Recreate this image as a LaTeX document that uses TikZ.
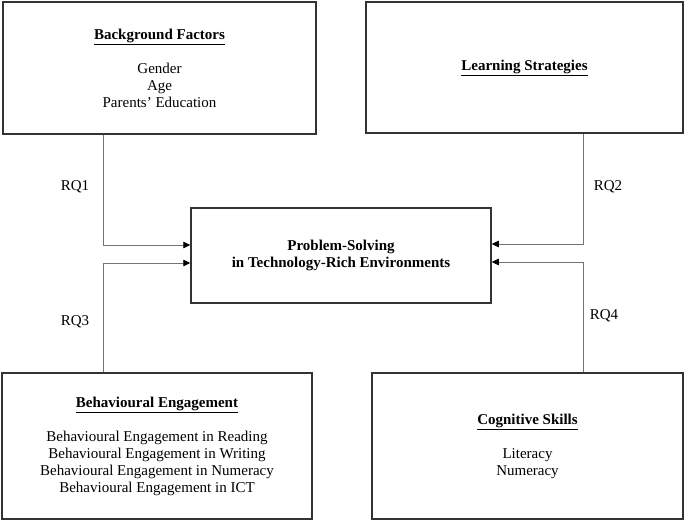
\documentclass[tikz,border=0pt]{standalone}
\usepackage{fontspec}
\setmainfont{Liberation Serif}
\usetikzlibrary{arrows.meta}

\begin{document}
\begin{tikzpicture}[x=1pt, y=-1pt, >={Triangle[length=7pt,width=6.5pt,color=black]},
	every node/.style={font=\fontsize{15}{17}\selectfont},
	box/.style={draw=black!80, line width=1.5pt, align=center, inner sep=0pt},
	link/.style={draw=black!55, line width=0.8pt}]
	\useasboundingbox (0,0) rectangle (685,521);
	
	% 1. 方框
	\node[box, minimum width=313pt, minimum height=132pt] (bf) at (159.5,68)
		{\underline{\textbf{Background Factors}}\\[17pt] Gender\\ Age\\ Parents' Education};
	\node[box, minimum width=317pt, minimum height=131pt] (ls) at (524.5,67.5)
		{\underline{\textbf{Learning Strategies}}};
	\node[box, minimum width=300pt, minimum height=95pt] (ps) at (341,255.5)
		{\textbf{Problem-Solving}\\ \textbf{in Technology-Rich Environments}};
	\node[box, minimum width=310pt, minimum height=146pt] (be) at (157,446)
		{\underline{\textbf{Behavioural Engagement}}\\[17pt]
		 Behavioural Engagement in Reading\\ Behavioural Engagement in Writing\\
		 Behavioural Engagement in Numeracy\\ Behavioural Engagement in ICT};
	\node[box, minimum width=311pt, minimum height=146pt] (cs) at (527.5,446)
		{\underline{\textbf{Cognitive Skills}}\\[17pt] Literacy\\ Numeracy};
	
	% 2. 连线（折线 + 箭头）
	\coordinate (k1) at (103,245);
	\coordinate (k2) at (583,244);
	\coordinate (k3) at (103,263);
	\coordinate (k4) at (583,262);
	\draw[link, ->] (bf.south -| k1) |- (k1 -| ps.west);
	\draw[link, ->] (ls.south -| k2) |- (k2 -| ps.east);
	\draw[link, ->] (be.north -| k3) |- (k3 -| ps.west);
	\draw[link, ->] (cs.north -| k4) |- (k4 -| ps.east);
	
	% 3. 标签
	\node (rq1) at (75,187) {RQ1};
	\node (rq2) at (608,187) {RQ2};
	\node (rq3) at (75,322) {RQ3};
	\node (rq4) at (604,316) {RQ4};
\end{tikzpicture}
\end{document}
